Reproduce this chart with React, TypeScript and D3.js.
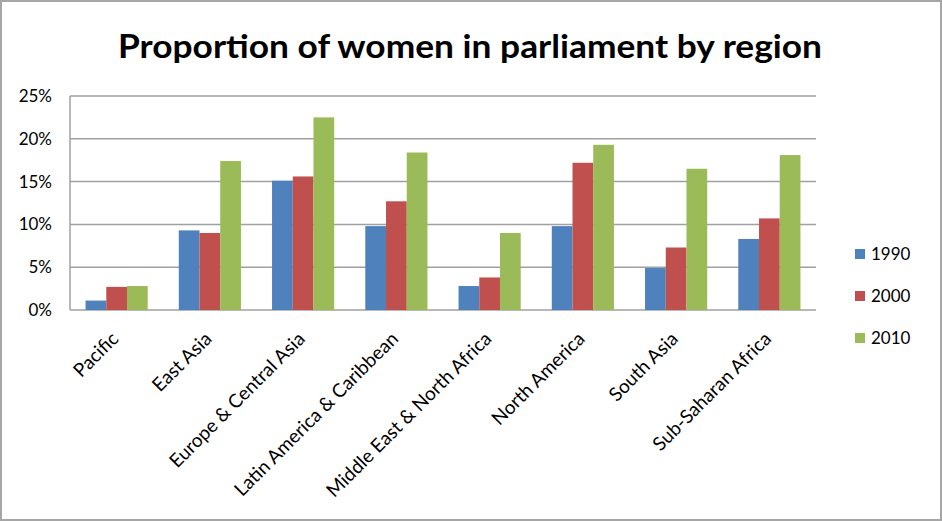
import { useEffect, useRef } from "react";
import * as d3 from "d3";

const regions = [
  "Pacific",
  "East Asia",
  "Europe & Central Asia",
  "Latin America & Caribbean",
  "Middle East & North Africa",
  "North America",
  "South Asia",
  "Sub-Saharan Africa",
];
const years = ["1990", "2000", "2010"];
const share1990 = [1.1, 9.3, 15.1, 9.8, 2.8, 9.8, 4.9, 8.3];
const share2000 = [2.7, 9.0, 15.6, 12.7, 3.8, 17.2, 7.3, 10.7];
const share2010 = [2.8, 17.4, 22.5, 18.4, 9.0, 19.3, 16.5, 18.1];
const yTicks = [0, 5, 10, 15, 20, 25];
const colors = ["#4F81BD", "#C0504D", "#9BBB59"];

const W = 942;
const H = 521;
const FONT = "Lato, 'Noto Sans', sans-serif";

export default function App() {
  const svgRef = useRef<SVGSVGElement>(null);

  useEffect(() => {
    if (!svgRef.current) return;
    const svg = d3.select(svgRef.current);
    svg.selectAll("*").remove();

    const series = [share1990, share2000, share2010];
    const plot = { left: 70, right: 816, top: 96, bottom: 310 };

    // outer frame
    svg.append("rect")
      .attr("x", 1).attr("y", 1)
      .attr("width", W - 2).attr("height", H - 2)
      .attr("fill", "#fff")
      .attr("stroke", "#a6a6a6")
      .attr("stroke-width", 2);

    // title
    svg.append("text")
      .attr("x", 470).attr("y", 58)
      .attr("text-anchor", "middle")
      .attr("font-family", FONT)
      .attr("font-weight", "700")
      .attr("font-size", 32)
      .attr("textLength", 704)
      .attr("lengthAdjust", "spacingAndGlyphs")
      .attr("fill", "#000")
      .text("Proportion of women in parliament by region");

    const x = d3.scaleBand<string>()
      .domain(regions)
      .range([plot.left, plot.right])
      .padding(0);

    const y = d3.scaleLinear()
      .domain([0, 25])
      .range([plot.bottom, plot.top]);

    // bars inside each category: gap width 150%
    const barW = x.bandwidth() / 4.5;
    const inner = d3.scaleBand<string>()
      .domain(years)
      .range([barW * 0.75, barW * 3.75])
      .padding(0);

    // gridlines
    svg.append("g")
      .selectAll("line")
      .data(yTicks)
      .enter()
      .append("line")
      .attr("x1", plot.left)
      .attr("x2", plot.right)
      .attr("y1", (d) => y(d))
      .attr("y2", (d) => y(d))
      .attr("stroke", "#a0a0a0")
      .attr("stroke-width", 1.5);

    // y axis line
    svg.append("line")
      .attr("x1", plot.left).attr("x2", plot.left)
      .attr("y1", plot.top).attr("y2", plot.bottom)
      .attr("stroke", "#a0a0a0")
      .attr("stroke-width", 1.5);

    // y labels
    svg.append("g")
      .selectAll("text")
      .data(yTicks)
      .enter()
      .append("text")
      .attr("x", 52)
      .attr("y", (d) => y(d) + 6)
      .attr("text-anchor", "end")
      .attr("font-family", FONT)
      .attr("font-size", 17)
      .attr("fill", "#000")
      .text((d) => `${d}%`);

    // bars
    series.forEach((vals, si) => {
      svg.append("g")
        .selectAll("rect")
        .data(vals)
        .enter()
        .append("rect")
        .attr("x", (_d, i) => (x(regions[i]) ?? 0) + (inner(years[si]) ?? 0))
        .attr("y", (d) => y(d))
        .attr("width", inner.bandwidth())
        .attr("height", (d) => y(0) - y(d))
        .attr("fill", colors[si]);
    });

    // x labels
    svg.append("g")
      .selectAll("text")
      .data(regions)
      .enter()
      .append("text")
      .attr("transform", (d) => {
        const cx = (x(d) ?? 0) + x.bandwidth() / 2 + 3;
        return `translate(${cx},${plot.bottom + 30}) rotate(-45)`;
      })
      .attr("text-anchor", "end")
      .attr("font-family", FONT)
      .attr("font-size", 19)
      .attr("fill", "#000")
      .text((d) => d);

    // legend
    const legend = svg.append("g");
    years.forEach((yr, i) => {
      const cy = 254 + i * 42;
      legend.append("rect")
        .attr("x", 855).attr("y", cy - 5)
        .attr("width", 10).attr("height", 10)
        .attr("fill", colors[i]);
      legend.append("text")
        .attr("x", 871).attr("y", cy + 6)
        .attr("font-family", FONT)
        .attr("font-size", 17)
        .attr("fill", "#000")
        .text(yr);
    });
  }, []);

  return (
    <svg
      ref={svgRef}
      width={W}
      height={H}
      style={{ position: "absolute", left: 0, top: 0, display: "block" }}
    />
  );
}
